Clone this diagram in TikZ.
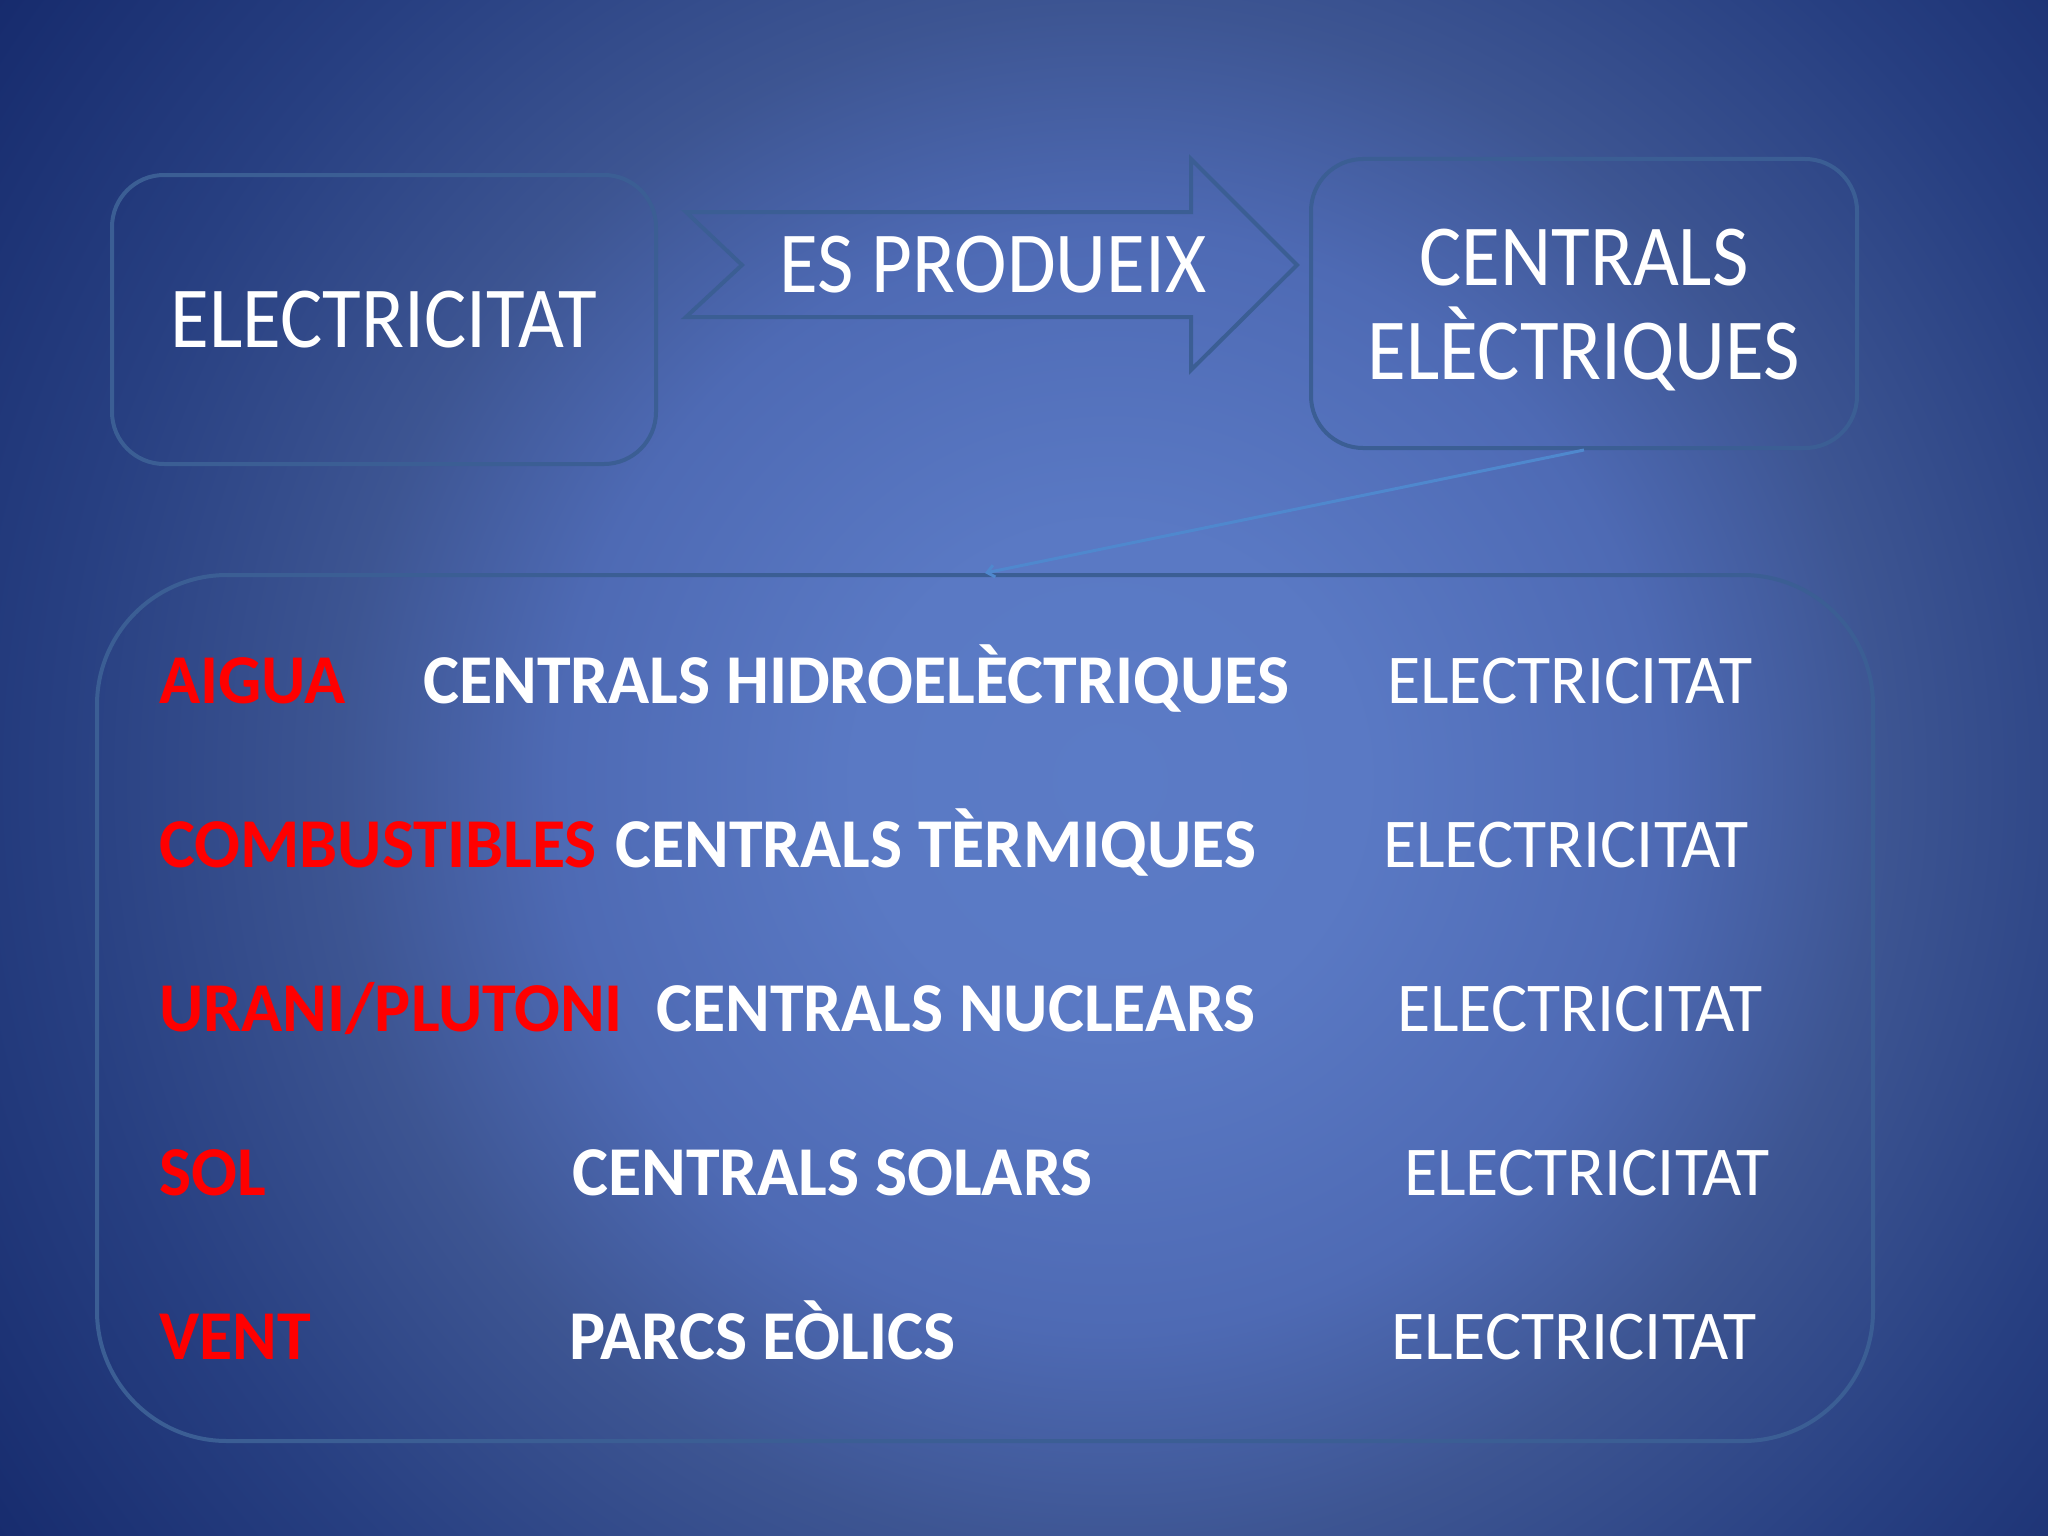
\documentclass[tikz,border=0pt]{standalone}
\usepackage{fontspec}
\setmainfont{Carlito}[FakeStretch=0.97]
\newfontfamily\bigfont{Carlito}[FakeStretch=0.91]
\usetikzlibrary{positioning}
\usetikzlibrary{arrows.meta}

\definecolor{edge}{HTML}{3B5E94}
\definecolor{link}{HTML}{4F88CE}
\definecolor{src}{HTML}{FF0000}

\pgfdeclareradialshading{slide}{\pgfpoint{0bp}{0bp}}{rgb(0bp)=(0.357,0.482,0.776); rgb(250bp)=(0.353,0.475,0.769); rgb(550bp)=(0.306,0.416,0.706); rgb(770bp)=(0.239,0.333,0.573); rgb(1050bp)=(0.153,0.247,0.506); rgb(1400bp)=(0.078,0.157,0.416)}

\tikzset{box/.style={draw=edge,line width=4pt,rounded corners=52pt,text=white,align=center,inner sep=0pt}}
\tikzset{big/.style={text=white,align=center,font=\bigfont\fontsize{87}{94}\selectfont}}
\tikzset{row/.style={anchor=base west,inner sep=0pt,font=\fontsize{70}{76}\selectfont\bfseries}}
\tikzset{res/.style={anchor=base west,inner sep=0pt,text=white,font=\fontsize{70}{76}\selectfont}}

\begin{document}
\begin{tikzpicture}[x=1pt,y=-1pt]
\useasboundingbox (0,0) rectangle (2048,1536);
\begin{scope}
\clip (0,0) rectangle (2048,1536);
\node[inner sep=0pt] at (1110,780) (bg) {\pgfuseshading{slide}};
\end{scope}

\node[box,big,minimum width=544,minimum height=289] at (384,319.5) (elec) {ELECTRICITAT};
\node[box,minimum width=546,minimum height=289] at (1584,303.5) (cent) {};
\node[big] at (1584,310) (centtxt) {CENTRALS\\ELÈCTRIQUES};

\draw[draw=edge,line width=4pt,line join=miter] (686,212) -- (1191,212) -- (1191,159) -- (1297,265)
  -- (1191,370) -- (1191,317) -- (686,317) -- (742,265) -- cycle;
\node[big] at (993,265) (prod) {ES PRODUEIX};

\node[box,rounded corners=130pt,minimum width=1776,minimum height=866] at (985,1008) (fonts) {};
\draw[draw=link,line width=3pt,-{Straight Barb[length=7pt,width=12pt]}] (cent.south) -- (fonts.north);

\node[row,text=src] at (159,703) (aigua) {AIGUA};
\node[row,text=white] at (423,703) (hidro) {CENTRALS HIDROELÈCTRIQUES};
\node[res] at (1387,703) (e1) {ELECTRICITAT};

\node[row,text=src] at (159,867) (comb) {COMBUSTIBLES};
\node[row,text=white] at (615,867) (term) {CENTRALS TÈRMIQUES};
\node[res] at (1383,867) (e2) {ELECTRICITAT};

\node[row,text=src] at (159,1031) (urani) {URANI/PLUTONI};
\node[row,text=white] at (656,1031) (nucl) {CENTRALS NUCLEARS};
\node[res] at (1397,1031) (e3) {ELECTRICITAT};

\node[row,text=src] at (159,1195) (sol) {SOL};
\node[row,text=white] at (572,1195) (solar) {CENTRALS SOLARS};
\node[res] at (1404,1195) (e4) {ELECTRICITAT};

\node[row,text=src] at (159,1359) (vent) {VENT};
\node[row,text=white] at (569,1359) (eol) {PARCS EÒLICS};
\node[res] at (1391,1359) (e5) {ELECTRICITAT};

\end{tikzpicture}
\end{document}
